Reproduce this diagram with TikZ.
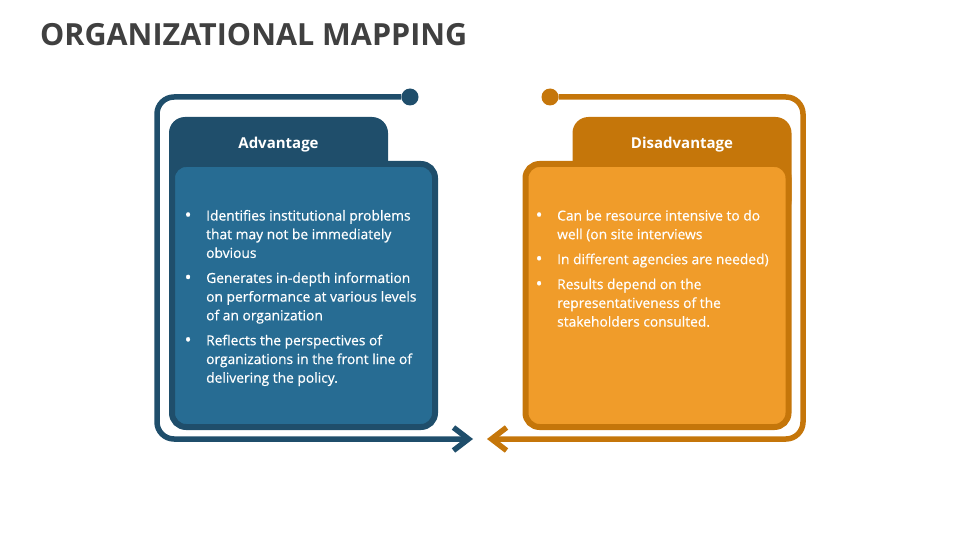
\documentclass[tikz,border=0pt]{standalone}
\usepackage{fontspec}
\setmainfont{Open Sans}
\newfontfamily\semibody{Open Sans}[FakeBold=0.6]
\usepackage{xcolor}
\usepackage{graphicx}
\usepackage{tikz}
\usetikzlibrary{arrows.meta,positioning}
\definecolor{advdark}{RGB}{31,78,107}
\definecolor{advlight}{RGB}{39,108,147}
\definecolor{disdark}{RGB}{197,118,10}
\definecolor{dislight}{RGB}{240,156,42}
\definecolor{ttlgray}{RGB}{64,64,64}
\newcommand{\blt}{\makebox[21.5pt][l]{\raisebox{-0.6pt}{\scalebox{1.3}{\textbullet}}}}
\newcommand{\bulletrows}[1]{\renewcommand{\arraystretch}{1}\begin{tabular}[t]{@{}l@{}l@{}}#1\end{tabular}}

\begin{document}
\begin{tikzpicture}[x=1pt,y=-1pt,
  tabbox/.style={fill=#1,rounded corners=16pt,minimum width=219pt,minimum height=100pt,inner sep=0pt},
  cardbox/.style={draw=#1,line width=6pt,rounded corners=14pt,minimum width=263pt,minimum height=263pt,inner sep=0pt},
  hdr/.style={anchor=base,text=white,inner sep=0pt,font=\fontsize{15}{17}\selectfont\bfseries},
  lst/.style={anchor=base west,text=white,inner sep=0pt,font=\fontsize{13.8}{18.7}\selectfont\semibody},
  dot/.style={circle,fill=#1,minimum size=17pt,inner sep=0pt},
  loop/.style={draw=#1,line width=5.5pt,rounded corners=17pt,-{Straight Barb[length=15pt,width=23pt]}}]
\useasboundingbox (0,0) rectangle (960,540);
\node[anchor=base west,inner sep=0pt,text=ttlgray,font=\fontsize{30.5}{33}\selectfont\bfseries] (ttl) at (40,46) {ORGANIZATIONAL MAPPING};
% advantage card
\node[dot=advdark] (dotA) at (410,97) {};
\coordinate (cornA) at (157,97);
\coordinate (endA) at (473,439);
\draw[loop=advdark] (dotA) -- (cornA) |- (endA);
\node[tabbox=advdark] (tabA) at (278.5,167) {};
\node[cardbox=advdark,fill=advlight] (cardA) at (303.5,295.5) {};
\node[hdr] (hdA) at (278.5,149) {Advantage};
\node[lst] (lstA) at (184.5,220.5) {\bulletrows{
  \blt & Identifies institutional problems\\
       & that may not be immediately\\
       & obvious\\[6.3pt]
  \blt & Generates in-depth information\\
       & on performance at various levels\\
       & of an organization\\[6.3pt]
  \blt & Reflects the perspectives of\\
       & organizations in the front line of\\
       & delivering the policy.}};
% disadvantage card
\node[dot=disdark] (dotD) at (550,97) {};
\coordinate (cornD) at (803,97);
\coordinate (endD) at (487,439);
\draw[loop=disdark] (dotD) -- (cornD) |- (endD);
\node[tabbox=disdark] (tabD) at (682,167) {};
\node[cardbox=disdark,fill=dislight] (cardD) at (657,295.5) {};
\node[hdr] (hdD) at (682,149) {Disadvantage};
\node[lst] (lstD) at (535.5,220.5) {\bulletrows{
  \blt & Can be resource intensive to do\\
       & well (on site interviews\\[6.3pt]
  \blt & In different agencies are needed)\\[6.3pt]
  \blt & Results depend on the\\
       & representativeness of the\\
       & stakeholders consulted.}};
\end{tikzpicture}
\end{document}
